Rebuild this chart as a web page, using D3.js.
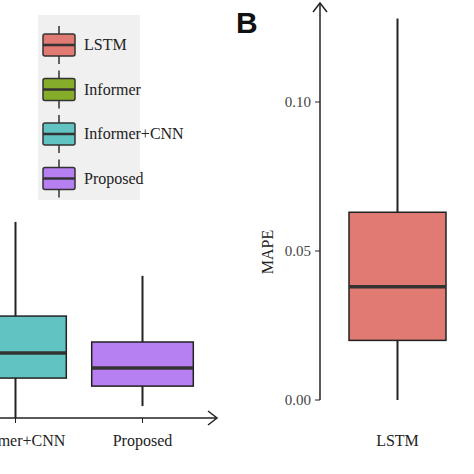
<!DOCTYPE html>
<html>
<head>
<meta charset="utf-8">
<script src="https://d3js.org/d3.v7.min.js"></script>
<style>
  body { margin: 0; background: #fff; }
  text { font-family: "Liberation Serif", serif; }
  text.tag { font-family: "Liberation Sans", Arial, sans-serif; font-weight: bold; }
</style>
</head>
<body>
<script>
  "use strict";
  // left panel (A), cropped on the left side
  var models = ["LSTM", "Informer", "Informer+CNN", "Proposed"];
  var colors = ["#e07a72", "#86ad2a", "#62c3c3", "#b67ff2"];
  var leftStats = [
    {name: "Informer+CNN", min: 0.0, q1: 0.0134, med: 0.0218, q3: 0.0342, max: 0.0658},
    {name: "Proposed", min: 0.004, q1: 0.0107, med: 0.0168, q3: 0.0255, max: 0.0477}
  ];
  // right panel (B)
  var rightStats = [{name: "LSTM", min: 0.0, q1: 0.020, med: 0.038, q3: 0.063, max: 0.128}];
  var yTicks = [0.00, 0.05, 0.10];

  var svg = d3.select("body").append("svg").attr("width", 474).attr("height", 474);

  function drawBoxes(g, stats, x, y, fillOf) {
    stats.forEach(function (d) {
      var cx = x(d.name) + x.bandwidth() / 2;
      g.append("line").attr("x1", cx).attr("x2", cx)
        .attr("y1", y(d.max)).attr("y2", y(d.min))
        .attr("stroke", "#222").attr("stroke-width", 2);
      g.append("rect").attr("x", x(d.name)).attr("width", x.bandwidth())
        .attr("y", y(d.q3)).attr("height", y(d.q1) - y(d.q3))
        .attr("fill", fillOf(d.name)).attr("stroke", "#222").attr("stroke-width", 1.5);
      g.append("line").attr("x1", x(d.name)).attr("x2", x(d.name) + x.bandwidth())
        .attr("y1", y(d.med)).attr("y2", y(d.med))
        .attr("stroke", "#333").attr("stroke-width", 3.5);
    });
  }
  var color = d3.scaleOrdinal().domain(models).range(colors);

  // panel A
  var xa = d3.scaleBand().domain(models).range([-302, 206]).paddingInner(0.2).paddingOuter(0.1);
  var ya = d3.scaleLinear().domain([0, 0.1]).range([418, 120]);
  var ga = svg.append("g");
  drawBoxes(ga, leftStats, xa, ya, color);
  ga.append("line").attr("x1", 0).attr("x2", 216).attr("y1", 418).attr("y2", 418)
    .attr("stroke", "#222").attr("stroke-width", 1.5);
  ga.append("path").attr("d", "M208,411 L217,418 L208,425").attr("fill", "none")
    .attr("stroke", "#222").attr("stroke-width", 1.5);
  ["Informer+CNN", "Proposed"].forEach(function (m) {
    var cx = xa(m) + xa.bandwidth() / 2;
    ga.append("line").attr("x1", cx).attr("x2", cx).attr("y1", 418).attr("y2", 423).attr("stroke", "#222");
    ga.append("text").attr("x", cx).attr("y", 446).attr("text-anchor", "middle")
      .attr("font-size", 16).attr("fill", "#222").text(m);
  });

  // legend
  var lg = svg.append("g").attr("transform", "translate(38,15)");
  lg.append("rect").attr("width", 102).attr("height", 185).attr("fill", "#f0f0f0");
  models.forEach(function (m, i) {
    var cy = 30 + i * 44.5;
    lg.append("line").attr("x1", 21).attr("x2", 21).attr("y1", cy - 19).attr("y2", cy + 19)
      .attr("stroke", "#333").attr("stroke-width", 1.5);
    lg.append("rect").attr("x", 5).attr("y", cy - 11).attr("width", 32).attr("height", 22)
      .attr("rx", 2).attr("fill", color(m)).attr("stroke", "#333").attr("stroke-width", 1.5);
    lg.append("line").attr("x1", 5).attr("x2", 37).attr("y1", cy).attr("y2", cy)
      .attr("stroke", "#333").attr("stroke-width", 2.5);
    lg.append("text").attr("x", 46).attr("y", cy + 5).attr("font-size", 16)
      .attr("fill", "#222").text(m);
  });

  // panel B
  var yb = d3.scaleLinear().domain([0, 0.1]).range([400, 102]);
  var xb = d3.scaleBand().domain(["LSTM"]).range([349, 446]).padding(0);
  var gb = svg.append("g");
  drawBoxes(gb, rightStats, xb, yb, color);
  gb.append("line").attr("x1", 320).attr("x2", 320).attr("y1", 400).attr("y2", 3)
    .attr("stroke", "#222").attr("stroke-width", 1.5);
  gb.append("path").attr("d", "M313,12 L320,3 L327,12").attr("fill", "none")
    .attr("stroke", "#222").attr("stroke-width", 1.5);
  yTicks.forEach(function (t) {
    gb.append("line").attr("x1", 315).attr("x2", 320).attr("y1", yb(t)).attr("y2", yb(t)).attr("stroke", "#222");
    gb.append("text").attr("x", 311).attr("y", yb(t) + 5).attr("text-anchor", "end")
      .attr("font-size", 15).attr("fill", "#444").text(d3.format(".2f")(t));
  });
  var lx = xb("LSTM") + xb.bandwidth() / 2;
  gb.append("text").attr("x", lx).attr("y", 446).attr("text-anchor", "middle")
    .attr("font-size", 16).attr("fill", "#222").text("LSTM");
  gb.append("text").attr("transform", "translate(273,252) rotate(-90)")
    .attr("text-anchor", "middle").attr("font-size", 16).attr("fill", "#222").text("MAPE");
  svg.append("text").attr("class", "tag").attr("x", 236).attr("y", 33)
    .attr("font-size", 30).attr("fill", "#111").text("B");
</script>
</body>
</html>
